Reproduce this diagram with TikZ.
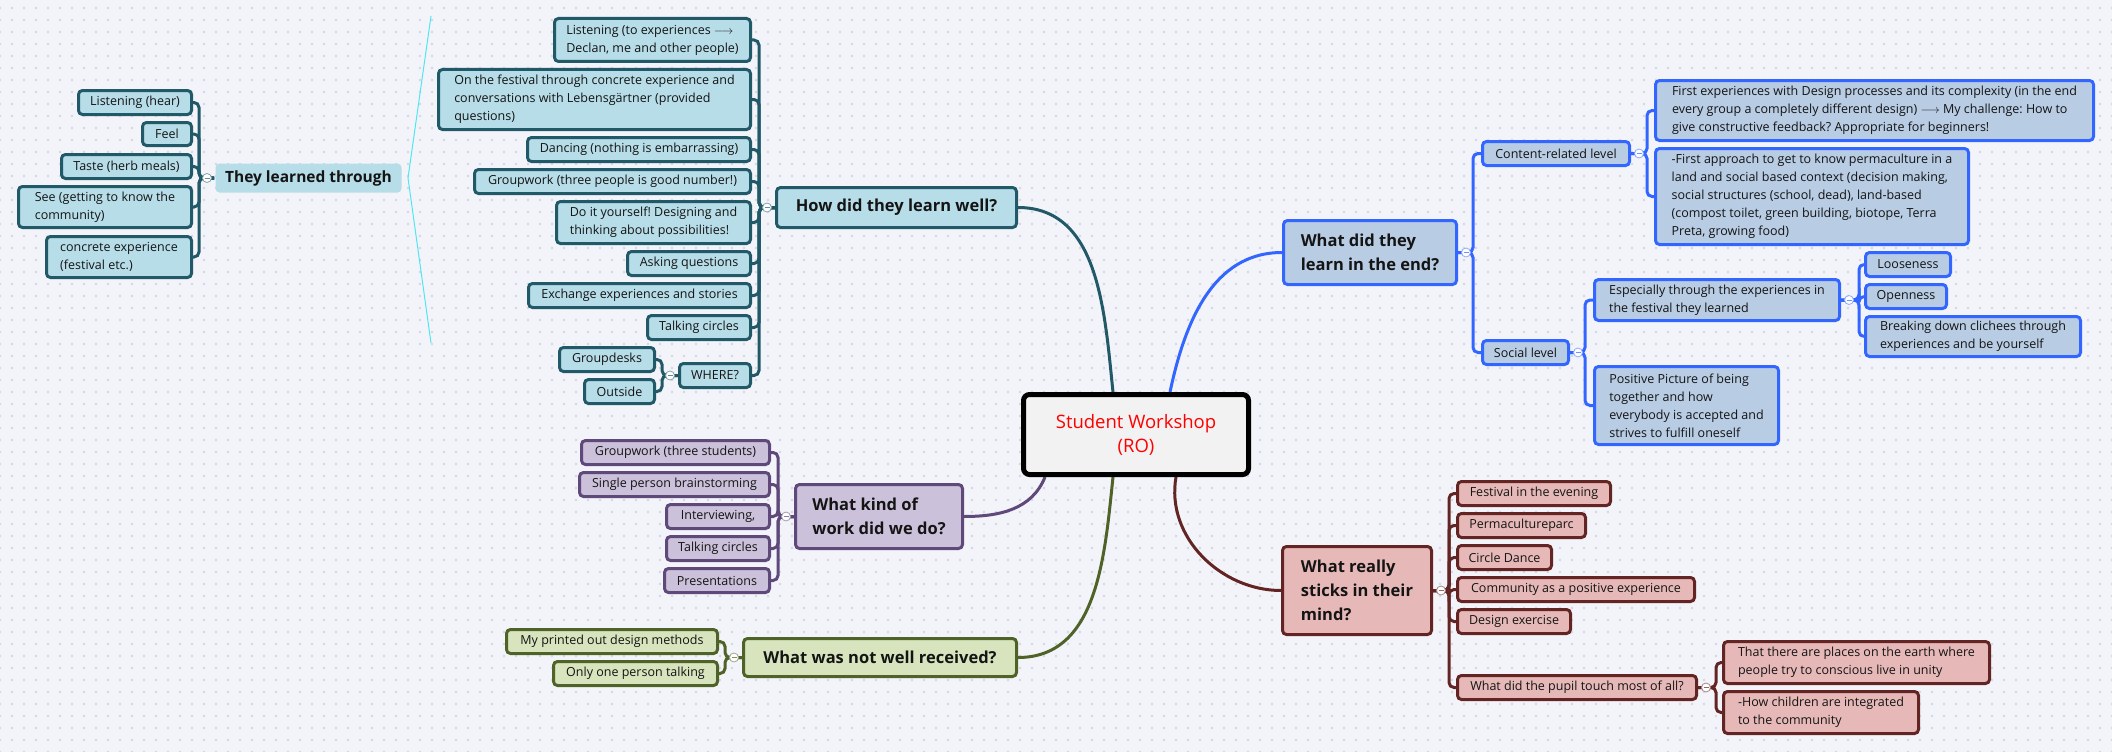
\documentclass[tikz,border=0pt]{standalone}
\usepackage{fontspec}
\setmainfont{Open Sans}
\frenchspacing
\usetikzlibrary{patterns,calc}
\definecolor{bgc}{RGB}{243,244,249}
\definecolor{dotc}{RGB}{212,215,225}
\definecolor{tealD}{RGB}{33,89,104}
\definecolor{tealF}{RGB}{183,221,232}
\definecolor{blueD}{RGB}{51,102,255}
\definecolor{blueF}{RGB}{184,204,228}
\definecolor{purD}{RGB}{95,73,122}
\definecolor{purF}{RGB}{204,193,218}
\definecolor{grnD}{RGB}{79,98,40}
\definecolor{grnF}{RGB}{215,228,189}
\definecolor{redD}{RGB}{99,37,35}
\definecolor{redF}{RGB}{230,185,184}
\definecolor{ctrF}{RGB}{242,242,242}
\definecolor{cyanL}{RGB}{80,230,240}
\definecolor{txtc}{RGB}{20,20,20}
\pgfdeclarepatternformonly{gdots}{\pgfqpoint{-2pt}{-2pt}}{\pgfqpoint{2pt}{2pt}}{\pgfqpoint{12pt}{12pt}}{\pgfpathcircle{\pgfqpoint{0pt}{0pt}}{1.4pt}\pgfusepath{fill}}
\pgfdeclarelayer{back}
\pgfdeclarelayer{conn}
\pgfsetlayers{back,conn,main}
\newcommand\normtxt{\fontsize{12.5}{18}\selectfont}
\newcommand\titletxt{\fontsize{16.5}{24}\selectfont\bfseries}
\newcommand\tltxt{\fontsize{15.5}{24}\selectfont\bfseries}
\newcommand\ctrtxt{\fontsize{18.5}{24}\selectfont}
\newcommand\bx[7]{\node[#2, minimum width={#5-#3-3}, minimum height={#6-#4-3}] (#1) at ({(#3+#5)/2},{-(#4+#6)/2}) {#7};}
\tikzset{
  nodebase/.style={rounded corners=4pt, line width=3pt, align=left, inner xsep=3pt, inner ysep=1pt, font=\normtxt, text=txtc},
  tb/.style={nodebase, draw=tealD, fill=tealF},
  bb/.style={nodebase, draw=blueD, fill=blueF},
  pb/.style={nodebase, draw=purD, fill=purF},
  gb/.style={nodebase, draw=grnD, fill=grnF},
  rb/.style={nodebase, draw=redD, fill=redF},
  ttl/.style={font=\titletxt},
  brc/.style={draw=#1, line width=3pt, rounded corners=5pt},
  mainc/.style={draw=#1, line width=3pt},
  collapser/.style={circle, draw=#1!55, fill=white, line width=0.8pt, minimum size=9pt, inner sep=0pt,
    path picture={\draw[#1!70, line width=0.8pt] ([xshift=-2.5pt]path picture bounding box.center) -- ([xshift=2.5pt]path picture bounding box.center);}},
}
\begin{document}
\begin{tikzpicture}[x=1pt,y=1pt]
\begin{pgfonlayer}{back}
\fill[bgc] (0,0) rectangle (2112,-752);
\fill[pattern=gdots, pattern color=dotc] (0,0) rectangle (2112,-752);
\end{pgfonlayer}
\useasboundingbox (0,0) rectangle (2112,-752);

% ---------- center ----------
\node[rounded corners=6pt, draw=black, line width=5pt, fill=ctrF, text=red, font=\ctrtxt, align=center,
  minimum width=225, minimum height=80] (ctr) at (1136,-434.5) {Student Workshop\\(RO)};

% ---------- teal: how did they learn well ----------
\bx{how}{tb,ttl}{775}{186}{1018}{229}{How did they learn well?}
\bx{h1}{tb}{553}{17}{752}{63}{Listening (to experiences \ensuremath{\longrightarrow}\\Declan, me and other people)}
\bx{h2}{tb}{437}{68}{752}{131}{On the festival through concrete experience and\\conversations with Lebensgärtner (provided\\questions)}
\bx{h3}{tb}{526}{136}{752}{163}{Dancing (nothing is embarrassing)}
\bx{h4}{tb}{473}{168}{752}{195}{Groupwork (three people is good number!)}
\bx{h5}{tb}{555}{200}{752}{245}{Do it yourself! Designing and\\thinking about possibilities!}
\bx{h6}{tb}{626}{250}{752}{277}{Asking questions}
\bx{h7}{tb}{527}{282}{752}{309}{Exchange experiences and stories}
\bx{h8}{tb}{646}{314}{752}{341}{Talking circles}
\bx{h9}{tb}{678}{362}{752}{389}{WHERE?}
\bx{w1}{tb}{558}{346}{656}{373}{Groupdesks}
\bx{w2}{tb}{583}{378}{656}{405}{Outside}

% ---------- teal: they learned through ----------
\bx{tl}{tb,font=\tltxt,draw=none}{214}{162}{403}{194}{They learned through}
\bx{l1}{tb}{77}{89}{193}{116}{Listening (hear)}
\bx{l2}{tb}{141}{121}{193}{147}{Feel}
\bx{l3}{tb}{60}{153}{193}{180}{Taste (herb meals)}
\bx{l4}{tb}{17}{185}{193}{229}{See (getting to know the\\community)}
\bx{l5}{tb}{45}{235}{193}{279}{concrete experience\\(festival etc.)}

% ---------- purple ----------
\bx{kind}{pb,ttl}{794}{483}{964}{550}{What kind of\\work did we do?}
\bx{k1}{pb}{580}{439}{771}{466}{Groupwork (three students)}
\bx{k2}{pb}{578}{471}{771}{498}{Single person brainstorming}
\bx{k3}{pb}{665}{503}{771}{530}{Interviewing,}
\bx{k4}{pb}{665}{535}{771}{562}{Talking circles}
\bx{k5}{pb}{663}{567}{771}{594}{Presentations}

% ---------- green ----------
\bx{nw}{gb,ttl}{742}{637}{1018}{678}{What was not well received?}
\bx{n1}{gb}{505}{628}{719}{655}{My printed out design methods}
\bx{n2}{gb}{552}{660}{719}{687}{Only one person talking}

% ---------- blue ----------
\bx{endq}{bb,ttl}{1282}{219}{1458}{286}{What did they\\learn in the end?}
\bx{cl}{bb}{1481}{140}{1631}{167}{Content-related level}
\bx{c1}{bb}{1654}{79}{2095}{142}{First experiences with Design processes and its complexity (in the end\\every group a completely different design) \ensuremath{\longrightarrow} My challenge: How to\\give constructive feedback? Appropriate for beginners!}
\bx{c2}{bb}{1654}{147}{1970}{246}{-First approach to get to know permaculture in a\\land and social based context (decision making,\\social structures (school, dead), land-based\\(compost toilet, green building, biotope, Terra\\Preta, growing food)}
\bx{sl}{bb}{1481}{339}{1570}{366}{Social level}
\bx{s1}{bb}{1593}{278}{1841}{322}{Especially through the experiences in\\the festival they learned}
\bx{s2}{bb}{1593}{365}{1780}{446}{Positive Picture of being\\together and how\\everybody is accepted and\\strives to fulfill oneself}
\bx{e1}{bb}{1864}{251}{1952}{278}{Looseness}
\bx{e2}{bb}{1864}{283}{1948}{310}{Openness}
\bx{e3}{bb}{1864}{315}{2082}{358}{Breaking down clichees through\\experiences and be yourself}

% ---------- red ----------
\bx{st}{rb,ttl}{1281}{545}{1433}{636}{What really\\sticks in their\\mind?}
\bx{r1}{rb}{1456}{480}{1612}{507}{Festival in the evening}
\bx{r2}{rb}{1456}{512}{1587}{539}{Permacultureparc}
\bx{r3}{rb}{1456}{544}{1553}{571}{Circle Dance}
\bx{r4}{rb}{1456}{576}{1696}{603}{Community as a positive experience}
\bx{r5}{rb}{1456}{608}{1572}{635}{Design exercise}
\bx{r6}{rb}{1456}{674}{1698}{701}{What did the pupil touch most of all?}
\bx{p1}{rb}{1722}{640}{1991}{685}{That there are places on the earth where\\people try to conscious live in unity}
\bx{p2}{rb}{1722}{690}{1920}{735}{-How children are integrated\\to the community}

% ---------- connectors ----------
\begin{pgfonlayer}{conn}
\draw[mainc=tealD] (how.east) to[out=0,in=96] ([xshift=-23pt]ctr.north);
\draw[mainc=blueD] ([xshift=34pt]ctr.north) to[out=78,in=180] (endq.west);
\draw[mainc=purD] ([xshift=-91pt]ctr.south) to[out=-112,in=0] (kind.east);
\draw[mainc=grnD] ([xshift=-23pt]ctr.south) to[out=-96,in=0] (nw.east);
\draw[mainc=redD] ([xshift=40pt]ctr.south) to[out=-100,in=180] (st.west);

\foreach \c in {h1,h2,h3,h4,h5,h6,h7,h8,h9}
  \draw[brc=tealD] (how.west) -- ++(-16,0) |- (\c.east);
\foreach \c in {w1,w2}
  \draw[brc=tealD] (h9.west) -- ++(-16,0) |- (\c.east);
\foreach \c in {l1,l2,l3,l4,l5}
  \draw[brc=tealD] (tl.west) -- ++(-15,0) |- (\c.east);
\foreach \c in {k1,k2,k3,k4,k5}
  \draw[brc=purD] (kind.west) -- ++(-16,0) |- (\c.east);
\foreach \c in {n1,n2}
  \draw[brc=grnD] (nw.west) -- ++(-17,0) |- (\c.east);
\foreach \c in {cl,sl}
  \draw[brc=blueD] (endq.east) -- ++(15,0) |- (\c.west);
\foreach \c in {c1,c2}
  \draw[brc=blueD] (cl.east) -- ++(16,0) |- (\c.west);
\foreach \c in {s1,s2}
  \draw[brc=blueD] (sl.east) -- ++(15,0) |- (\c.west);
\foreach \c in {e1,e2,e3}
  \draw[brc=blueD] (s1.east) -- ++(18,0) |- (\c.west);
\foreach \c in {r1,r2,r3,r4,r5,r6}
  \draw[brc=redD] (st.east) -- ++(16,0) |- (\c.west);
\foreach \c in {p1,p2}
  \draw[brc=redD] (r6.east) -- ++(18,0) |- (\c.west);

\coordinate (cyTop) at (431,-16);
\coordinate (cyBot) at (431,-343);
\draw[cyanL, line width=1pt] (cyTop) -- ([xshift=5pt]tl.east) -- (cyBot);
\end{pgfonlayer}

% ---------- collapse markers ----------
\node[collapser=tealD] (m1) at ([xshift=-8pt]how.west) {};
\node[collapser=tealD] (m2) at ([xshift=-8pt]h9.west) {};
\node[collapser=tealD] (m3) at ([xshift=-7pt]tl.west) {};
\node[collapser=purD] (m4) at ([xshift=-8pt]kind.west) {};
\node[collapser=grnD] (m5) at ([xshift=-8pt]nw.west) {};
\node[collapser=blueD] (m6) at ([xshift=8pt]endq.east) {};
\node[collapser=blueD] (m7) at ([xshift=8pt]cl.east) {};
\node[collapser=blueD] (m8) at ([xshift=8pt]sl.east) {};
\node[collapser=blueD] (m9) at ([xshift=8pt]s1.east) {};
\node[collapser=redD] (m10) at ([xshift=8pt]st.east) {};
\node[collapser=redD] (m11) at ([xshift=8pt]r6.east) {};
\end{tikzpicture}
\end{document}
